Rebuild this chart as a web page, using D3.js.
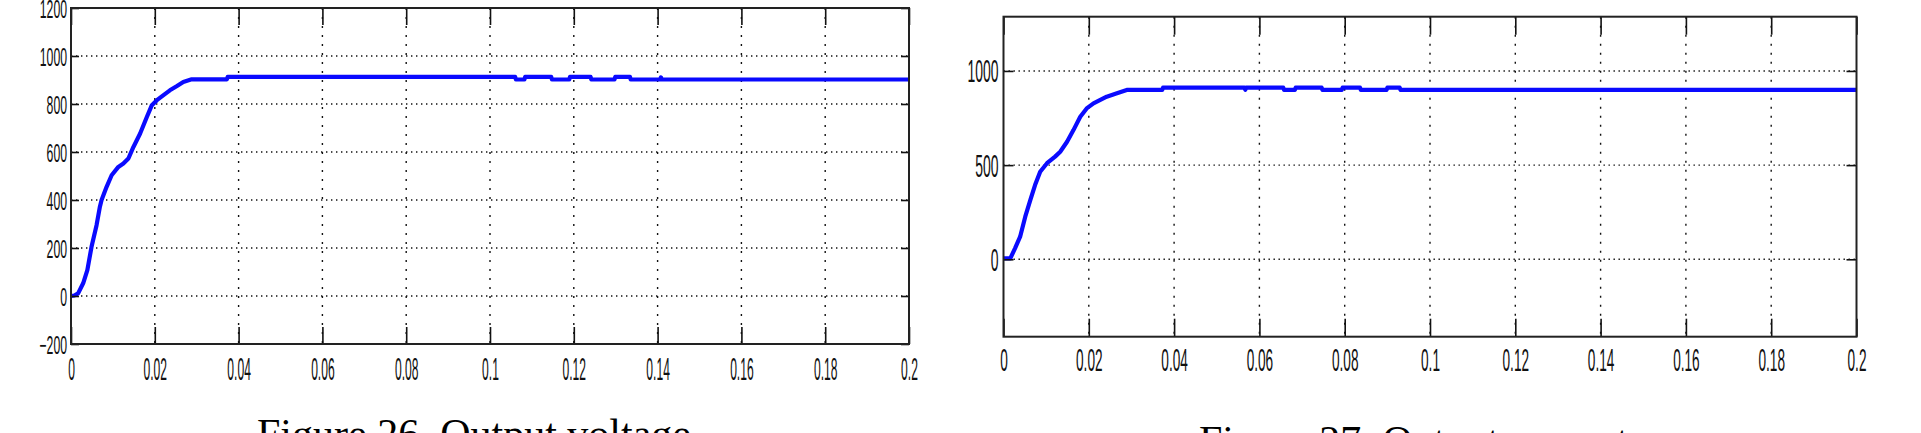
<!DOCTYPE html>
<html>
<head>
<meta charset="utf-8">
<script src="https://cdn.jsdelivr.net/npm/d3@7"></script>
<style>
  html, body { margin: 0; padding: 0; background: #fff; overflow: hidden; }
  svg { display: block; }
</style>
</head>
<body>
<svg id="chart" width="1921" height="433"></svg>
<script>
// ---------------- DATA ----------------
// Figure 26: output voltage (time s, volts)
const voltTime = [0, 0.0008, 0.0017, 0.0029, 0.0039, 0.0049, 0.0061, 0.0069, 0.0073, 0.0085, 0.0097,
  0.0113, 0.0125, 0.0137, 0.0149, 0.0165, 0.0181, 0.0193, 0.0205, 0.022, 0.0236, 0.0252, 0.0268, 0.0288,
  0.0372, 0.0374, 0.106, 0.1062, 0.1082, 0.1084, 0.1146, 0.1148, 0.1189, 0.1191, 0.124, 0.1242,
  0.1297, 0.1299, 0.1334, 0.1336, 0.1406, 0.1408, 0.141, 0.2];
const voltValues = [0, 2, 11, 53, 108, 205, 295, 372, 400, 455, 503,
  538, 552, 573, 621, 677, 746, 795, 816, 836, 857, 874, 892, 903,
  903, 913, 913, 902, 902, 913, 913, 902, 902, 913, 913, 902,
  902, 913, 913, 902, 902, 911, 902, 902];

// Figure 27: output current (time s, amps)
const currTime = [0, 0.0016, 0.0027, 0.0039, 0.0051, 0.0063, 0.0074, 0.0086, 0.0102, 0.0121, 0.0133,
  0.0149, 0.0164, 0.018, 0.0195, 0.0211, 0.0227, 0.0242, 0.0266, 0.0289,
  0.0372, 0.0374, 0.0565, 0.0567, 0.0569, 0.0656, 0.0658, 0.0683, 0.0685, 0.0746, 0.0748,
  0.0793, 0.0795, 0.0836, 0.0838, 0.0898, 0.09, 0.0929, 0.0931, 0.2];
const currValues = [5, 5, 58, 120, 226, 315, 394, 465, 510, 545, 571,
  624, 686, 757, 801, 828, 846, 863, 881, 899,
  899, 911, 911, 900, 911, 911, 899, 899, 911, 911, 899,
  899, 911, 911, 899, 899, 911, 911, 899, 899];

// Tick labels
const xTicks = [0, 0.02, 0.04, 0.06, 0.08, 0.1, 0.12, 0.14, 0.16, 0.18, 0.2];
const voltYTicks = [-200, 0, 200, 400, 600, 800, 1000, 1200];
const currYTicks = [0, 500, 1000];
const voltYDomain = [-200, 1200];
const currYDomain = [-411, 1288];
const xDomain = [0, 0.2];

const captions = ["Figure 26. Output voltage", "Figure 27. Output current"];

// ---------------- DRAW ----------------
const svg = d3.select("#chart");

function fmtX(d) { return d === 0 ? "0" : String(+d.toFixed(2)); }

function drawPanel(cfg) {
  const x = d3.scaleLinear().domain(xDomain).range([cfg.left, cfg.right]);
  const y = d3.scaleLinear().domain(cfg.yDomain).range([cfg.bottom, cfg.top]);
  const g = svg.append("g");

  // grid: horizontal dotted
  g.append("g").selectAll("line").data(cfg.yTicks.filter(d => y(d) > cfg.top + 1 && y(d) < cfg.bottom - 1))
    .join("line")
    .attr("x1", cfg.left).attr("x2", cfg.right)
    .attr("y1", d => y(d)).attr("y2", d => y(d))
    .attr("stroke", "#111").attr("stroke-width", 1.4)
    .attr("stroke-dasharray", "1.4,3.6");
  // grid: vertical dotted
  g.append("g").selectAll("line").data(xTicks.filter(d => x(d) > cfg.left + 1 && x(d) < cfg.right - 1))
    .join("line")
    .attr("x1", d => x(d)).attr("x2", d => x(d))
    .attr("y1", cfg.top).attr("y2", cfg.bottom)
    .attr("stroke", "#111").attr("stroke-width", 1.4)
    .attr("stroke-dasharray", "2,7");

  // data line
  const pts = cfg.t.map((t, i) => [t, cfg.v[i]]);
  g.append("path")
    .datum(pts)
    .attr("fill", "none")
    .attr("stroke", "#0a0aff")
    .attr("stroke-width", 4.2)
    .attr("stroke-linejoin", "round")
    .attr("d", d3.line().x(d => x(d[0])).y(d => y(d[1])));

  // axes
  const bottomAxis = g.append("g").attr("transform", `translate(0,${cfg.bottom})`)
    .call(d3.axisBottom(x).tickValues(xTicks).tickSize(-cfg.xTickLen).tickFormat(fmtX));
  const topAxis = g.append("g").attr("transform", `translate(0,${cfg.top})`)
    .call(d3.axisTop(x).tickValues(xTicks).tickSize(-cfg.xTickLen).tickFormat(""));
  const leftAxis = g.append("g").attr("transform", `translate(${cfg.left},0)`)
    .call(d3.axisLeft(y).tickValues(cfg.yTicks).tickSize(-cfg.yTickLen).tickFormat(d3.format("d")));
  const rightAxis = g.append("g").attr("transform", `translate(${cfg.right},0)`)
    .call(d3.axisRight(y).tickValues(cfg.yTicks).tickSize(-cfg.yTickLen).tickFormat(""));

  [bottomAxis, topAxis, leftAxis, rightAxis].forEach(a => {
    a.select(".domain").remove();
    a.selectAll(".tick line").attr("stroke", "#111").attr("stroke-width", 1.6);
  });

  bottomAxis.selectAll(".tick text")
    .attr("x", 0).attr("y", 0).attr("dy", null)
    .attr("text-anchor", "middle")
    .attr("font-family", "Liberation Sans, Arial, sans-serif")
    .attr("font-size", cfg.xFont)
    .attr("fill", "#111")
    .attr("transform", `translate(0,${cfg.xLabelBase}) scale(${cfg.xScaleX},1)`);
  leftAxis.selectAll(".tick text")
    .attr("x", 0).attr("y", 0).attr("dy", null)
    .attr("text-anchor", "end")
    .attr("font-family", "Liberation Sans, Arial, sans-serif")
    .attr("font-size", cfg.yFont)
    .attr("fill", "#111")
    .attr("transform", `translate(${-cfg.yLabelGap},${cfg.yLabelBase}) scale(${cfg.yScaleX},1)`);

  // frame
  g.append("rect")
    .attr("x", cfg.left).attr("y", cfg.top)
    .attr("width", cfg.right - cfg.left).attr("height", cfg.bottom - cfg.top)
    .attr("fill", "none").attr("stroke", "#222").attr("stroke-width", 2);

  // caption
  svg.append("text")
    .attr("x", cfg.capX).attr("y", cfg.capY)
    .attr("font-family", "Liberation Serif, Times New Roman, serif")
    .attr("font-size", 42)
    .attr("fill", "#000")
    .text(cfg.caption);
}

drawPanel({
  left: 71, right: 909, top: 8, bottom: 344,
  yDomain: voltYDomain, yTicks: voltYTicks,
  t: voltTime, v: voltValues,
  xTickLen: 17, yTickLen: 8,
  xFont: 31, xScaleX: 0.39, xLabelBase: 36,
  yFont: 25, yScaleX: 0.49, yLabelGap: 4, yLabelBase: 9,
  caption: captions[0], capX: 257, capY: 448
});

drawPanel({
  left: 1003.5, right: 1856.5, top: 16.7, bottom: 336.7,
  yDomain: currYDomain, yTicks: currYTicks,
  t: currTime, v: currValues,
  xTickLen: 18, yTickLen: 10,
  xFont: 31, xScaleX: 0.44, xLabelBase: 34,
  yFont: 31, yScaleX: 0.45, yLabelGap: 5, yLabelBase: 11,
  caption: captions[1], capX: 1199, capY: 455
});
</script>
</body>
</html>
